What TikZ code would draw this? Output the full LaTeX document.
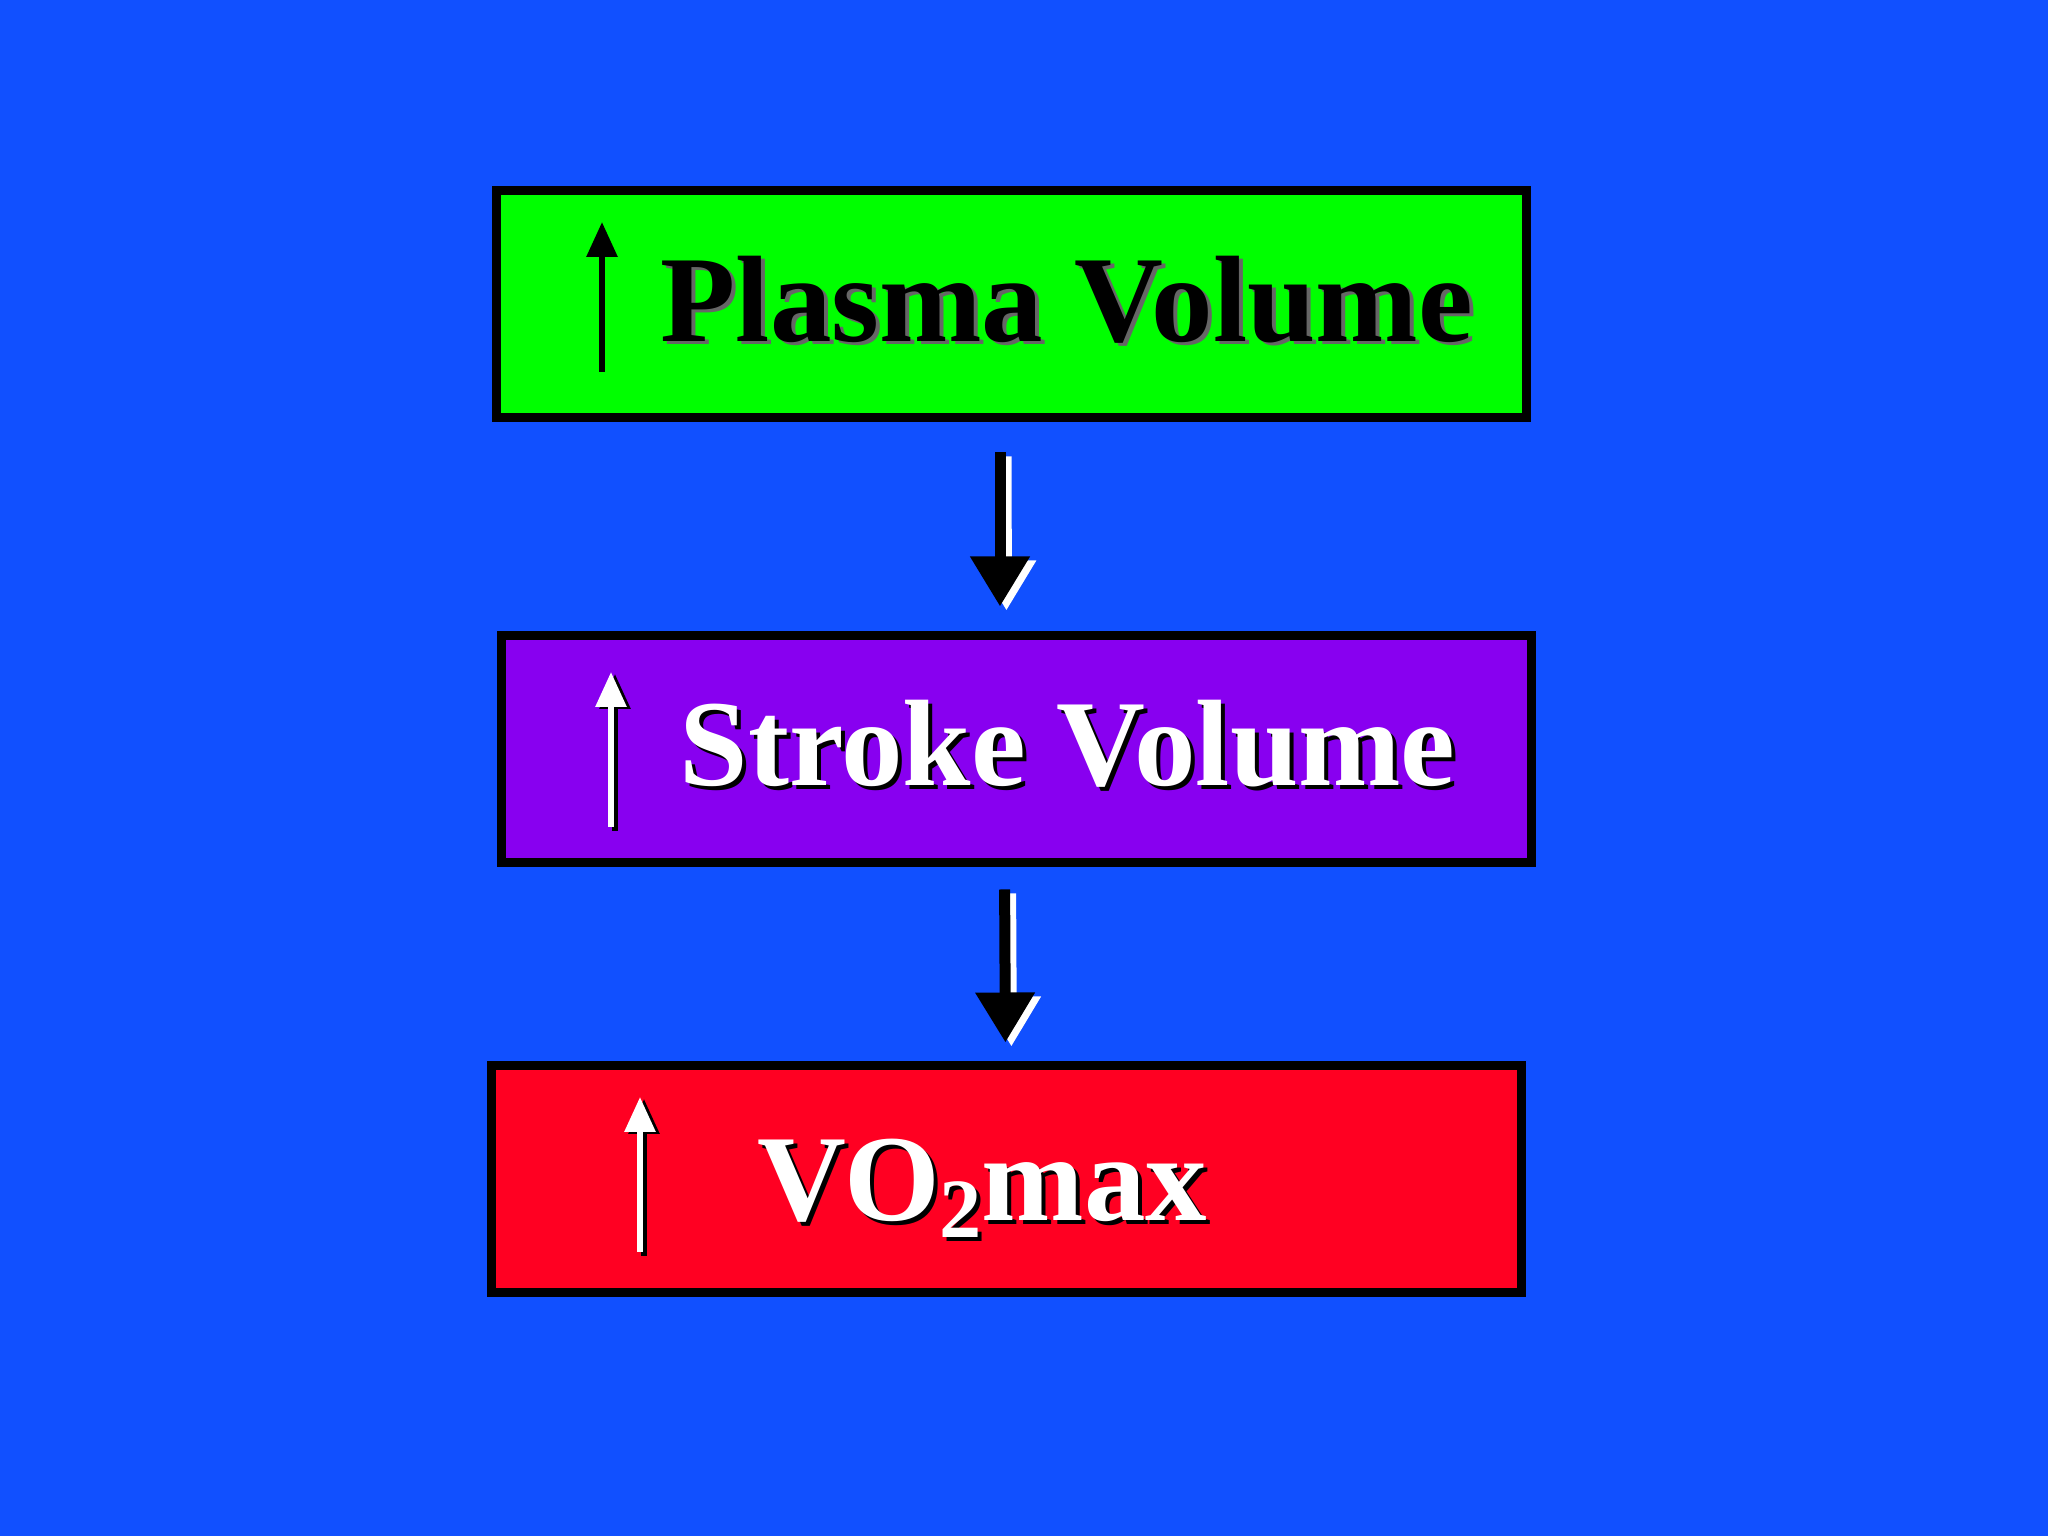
\documentclass[tikz,border=0pt]{standalone}
\usepackage{fontspec}
\setmainfont{Liberation Serif}
\usetikzlibrary{arrows.meta}
\definecolor{bg}{HTML}{1150FF}
\definecolor{gbox}{HTML}{00FF00}
\definecolor{pbox}{HTML}{8800F0}
\definecolor{rbox}{HTML}{FF0022}
\tikzset{
  box/.style={draw=black,line width=0.09cm,minimum width=10.3cm,minimum height=2.27cm,inner sep=0pt},
  lbl/.style={anchor=base west,inner sep=0pt,font=\fontsize{35}{40}\selectfont\bfseries},
  down/.style={line width=0.11cm,-{Triangle[width=0.57cm,length=0.5cm]}},
  up/.style={line width=0.06cm,-{Triangle[width=0.3cm,length=0.35cm]}}
}
\begin{document}
\begin{tikzpicture}
\fill[bg] (0,0) rectangle (20.48,15.36);
\useasboundingbox (0,0) rectangle (20.48,15.36);
\node[box,fill=gbox] (g) at (10.11,12.315) {};
\node[box,fill=pbox] (p) at (10.165,7.865) {};
\node[box,fill=rbox] (r) at (10.065,3.565) {};
% labels
\node[lbl,text=black!60] at (6.64,11.91) {Plasma Volume};
\node[lbl,text=black] (gt) at (6.6,11.94) {Plasma Volume};
\node[lbl,text=black] at (6.83,7.46) {Stroke Volume};
\node[lbl,text=white] (pt) at (6.79,7.50) {Stroke Volume};
\node[lbl,text=black] at (7.61,3.11) {VO\raisebox{-0.3ex}{\fontsize{24}{28}\selectfont 2}max};
\node[lbl,text=white] (rt) at (7.57,3.15) {VO\raisebox{-0.3ex}{\fontsize{24}{28}\selectfont 2}max};
% up arrows
\coordinate (ga) at (6.02,11.64); \coordinate (gb) at (6.02,13.14);
\draw[up,black] (ga) -- (gb);
\coordinate (pa) at (6.15,7.05); \coordinate (pb) at (6.15,8.62);
\coordinate (pa2) at (6.11,7.09); \coordinate (pb2) at (6.11,8.64);
\draw[up,black] (pa) -- (pb);
\draw[up,white] (pa2) -- (pb2);
\coordinate (ra) at (6.44,2.80); \coordinate (rb) at (6.44,4.37);
\coordinate (ra2) at (6.40,2.84); \coordinate (rb2) at (6.40,4.39);
\draw[up,black] (ra) -- (rb);
\draw[up,white] (ra2) -- (rb2);
% down connectors
\draw[down,white,shorten <=0.3cm,shorten >=0.25cm] ([xshift=-0.05cm,yshift=-0.04cm]g.south) -- ([xshift=-0.1cm,yshift=-0.04cm]p.north);
\draw[down,black,shorten <=0.3cm,shorten >=0.25cm] ([xshift=-0.11cm]g.south) -- ([xshift=-0.165cm]p.north);
\draw[down,white,shorten <=0.22cm,shorten >=0.19cm] ([xshift=-0.06cm,yshift=-0.04cm]p.south) -- ([xshift=0.05cm,yshift=-0.04cm]r.north);
\draw[down,black,shorten <=0.22cm,shorten >=0.19cm] ([xshift=-0.12cm]p.south) -- ([xshift=-0.01cm]r.north);
\end{tikzpicture}
\end{document}
